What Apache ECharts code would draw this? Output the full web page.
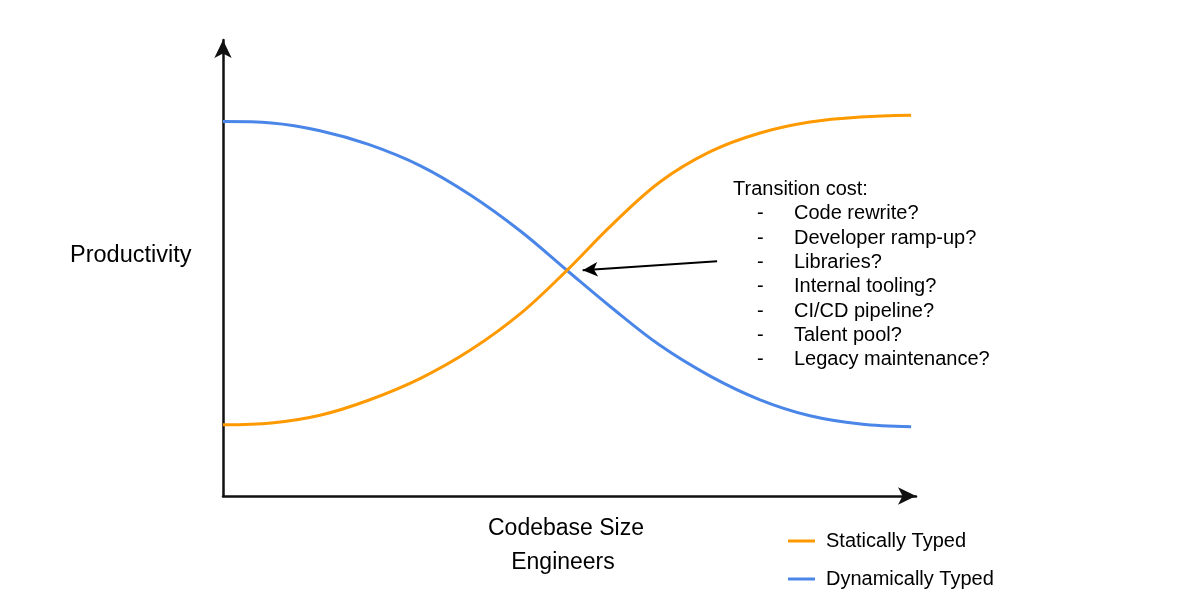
<!DOCTYPE html>
<html>
<head>
<meta charset="utf-8">
<script src="https://cdn.jsdelivr.net/npm/echarts@6/dist/echarts.min.js"></script>
<style>
html,body{margin:0;padding:0;background:#fff;}
#chart{width:1200px;height:616px;}
</style>
</head>
<body>
<div id="chart"></div>
<script>
// x positions (codebase size / engineers, arbitrary 0-100 scale)
const xValues = [0, 7, 14, 21, 28.5, 35.7, 43, 49.7, 56, 63, 70.3, 77.5, 84.7, 92, 99.3];
// productivity (arbitrary 0-100 scale)
const staticallyTyped = [15.6, 16.0, 17.7, 21.0, 25.8, 32.0, 40.1, 49.6, 59.3, 68.8, 75.5, 79.6, 82.0, 83.1, 83.5];
const dynamicallyTyped = [82.1, 81.8, 80.1, 77.1, 72.4, 66.0, 58.0, 49.4, 41.4, 33.1, 26.3, 21.1, 17.6, 15.8, 15.2];
const seriesNames = ['Statically Typed', 'Dynamically Typed'];
const yAxisTitle = 'Productivity';
const xAxisTitle = ['Codebase Size', 'Engineers'];
const noteTitle = 'Transition cost:';
const noteItems = ['Code rewrite?', 'Developer ramp-up?', 'Libraries?', 'Internal tooling?', 'CI/CD pipeline?', 'Talent pool?', 'Legacy maintenance?'];
// arrow pointing at the crossover: [from, to] in data units
const arrowFrom = [71.3, 51.5];
const arrowTo = [51.9, 49.5];

const FONT = 'Liberation Sans, Arial, sans-serif';
const chart = echarts.init(document.getElementById('chart'), null, {renderer: 'canvas'});

const toPairs = (ys) => ys.map((y, i) => [xValues[i], y]);

const graphics = [];
graphics.push({type: 'text', left: 70, top: 244, style: {text: yAxisTitle, font: '23.5px ' + FONT, fill: '#000'}});
graphics.push({type: 'text', style: {text: xAxisTitle[0], x: 566, y: 529, font: '23px ' + FONT, fill: '#000', textAlign: 'center', textVerticalAlign: 'middle'}});
graphics.push({type: 'text', style: {text: xAxisTitle[1], x: 563, y: 563, font: '23px ' + FONT, fill: '#000', textAlign: 'center', textVerticalAlign: 'middle'}});
graphics.push({type: 'text', style: {text: noteTitle, x: 733, y: 189, font: '20px ' + FONT, fill: '#000', textAlign: 'left', textVerticalAlign: 'middle'}});
noteItems.forEach((t, i) => {
  const y = 213.8 + i * 24.3;
  graphics.push({type: 'text', style: {text: '-', x: 757, y: y, font: '20px ' + FONT, fill: '#000', textAlign: 'left', textVerticalAlign: 'middle'}});
  graphics.push({type: 'text', style: {text: t, x: 794, y: y, font: '20px ' + FONT, fill: '#000', textAlign: 'left', textVerticalAlign: 'middle'}});
});

const axisCommon = {
  type: 'value', min: 0, max: 100,
  axisLine: {show: true, symbol: ['none', 'arrow'], symbolSize: [13, 18], symbolOffset: [0, 0],
    lineStyle: {color: '#111', width: 2.5}},
  axisTick: {show: false}, axisLabel: {show: false}, splitLine: {show: false}
};

const option = {
  animation: false,
  backgroundColor: '#fff',
  grid: {left: 223, right: 284, top: 40, bottom: 120, containLabel: false},
  xAxis: axisCommon,
  yAxis: axisCommon,
  legend: {
    orient: 'vertical', left: 783, top: 525,
    icon: 'rect', itemWidth: 27, itemHeight: 3, itemGap: 16,
    textStyle: {fontFamily: FONT, fontSize: 20, color: '#000', lineHeight: 22, padding: [0, 0, 0, 6]},
    data: seriesNames
  },
  series: [
    {
      name: seriesNames[0], type: 'line', data: toPairs(staticallyTyped), smooth: 0.35,
      symbol: 'none', color: '#ff9900', lineStyle: {width: 3, color: '#ff9900'}, z: 3
    },
    {
      name: seriesNames[1], type: 'line', data: toPairs(dynamicallyTyped), smooth: 0.35,
      symbol: 'none', color: '#4a86e8', lineStyle: {width: 3, color: '#4a86e8'}, z: 2,
      markLine: {
        silent: true, animation: false,
        symbol: ['none', 'arrow'], symbolSize: [11, 15],
        label: {show: false},
        lineStyle: {color: '#000', width: 2, type: 'solid'},
        emphasis: {disabled: true},
        data: [[{coord: arrowFrom}, {coord: arrowTo}]]
      }
    }
  ],
  graphic: graphics
};
chart.setOption(option);
</script>
</body>
</html>
